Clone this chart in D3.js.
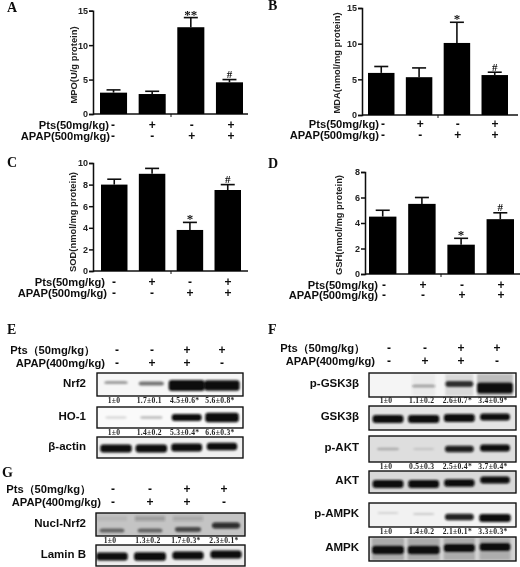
<!DOCTYPE html>
<html><head><meta charset="utf-8">
<script src="https://cdn.jsdelivr.net/npm/d3@7"></script>
<style>html,body{margin:0;padding:0;background:#fff}svg{display:block}</style>
</head><body><svg id="c" width="520" height="567"></svg>
<script>
// ---- bar chart values
const groups = ["g1","g2","g3","g4"];
const mpoValues = [3.1, 2.9, 12.6, 4.6];
const mpoTops   = [3.5, 3.3, 14.0, 5.0];
const mdaValues = [5.9, 5.3, 10.1, 5.6];
const mdaTops   = [6.8, 6.6, 13.0, 6.0];
const sodValues = [8.0, 9.0, 3.8, 7.5];
const sodTops   = [8.5, 9.5, 4.5, 8.0];
const gshValues = [4.5, 5.5, 2.3, 4.3];
const gshTops   = [5.0, 6.0, 2.8, 4.8];
const mpoSig = ["", "", "**", "#"];
const mdaSig = ["", "", "*", "#"];
const sodSig = ["", "", "*", "#"];
const gshSig = ["", "", "*", "#"];
const mpoTicks = [0, 5, 10, 15];
const mdaTicks = [0, 5, 10, 15];
const sodTicks = [0, 2, 4, 6, 8, 10];
const gshTicks = [0, 2, 4, 6, 8];
const ptsBars  = ["-", "+", "-", "+"];
const apapBars = ["-", "-", "+", "+"];
// ---- blot treatment rows
const ptsBlot  = ["-", "-", "+", "+"];
const apapBlot = ["-", "+", "+", "-"];
// ---- blot band strengths, 0..1
const nrf2Bands   = [0.22, 0.32, 1.0, 0.95];
const ho1Bands    = [0.1, 0.16, 0.62, 0.85];
const actinBands  = [0.72, 0.72, 0.68, 0.65];
const nuclBands   = [0.3, 0.3, 0.38, 0.5];
const nuclUpper   = [0.04, 0.14, 0.1, 0.0];
const laminBands  = [0.72, 0.75, 0.7, 0.7];
const pGskBands   = [0.0, 0.2, 0.5, 1.0];
const gskBands    = [0.68, 0.7, 0.68, 0.62];
const pAktBands   = [0.14, 0.08, 0.55, 0.62];
const aktBands    = [0.68, 0.68, 0.65, 0.6];
const pAmpkBands  = [0.08, 0.1, 0.55, 0.72];
const ampkBands   = [0.75, 0.75, 0.7, 0.68];
// ---- densitometry labels
const nrf2Quant = ["1±0", "1.7±0.1", "4.5±0.6*", "5.6±0.8*"];
const ho1Quant  = ["1±0", "1.4±0.2", "5.3±0.4*", "6.6±0.3*"];
const nuclQuant = ["1±0", "1.3±0.2", "1.7±0.3*", "2.3±0.1*"];
const pGskQuant = ["1±0", "1.1±0.2", "2.6±0.7*", "3.4±0.9*"];
const pAktQuant = ["1±0", "0.5±0.3", "2.5±0.4*", "3.7±0.4*"];
const pAmpkQuant= ["1±0", "1.4±0.2", "2.1±0.1*", "3.3±0.3*"];

// ---- layout
const SANS = "'Liberation Sans',Arial,sans-serif", SERIF = "'Liberation Serif',serif";
const svg = d3.select("#c");
const defs = svg.append("defs");
defs.append("filter").attr("id","soft").append("feGaussianBlur").attr("stdDeviation",0.4);
defs.append("filter").attr("id","bandBlur").attr("x","-30%").attr("y","-80%").attr("width","160%").attr("height","260%")
  .append("feGaussianBlur").attr("stdDeviation",1.1);
defs.append("clipPath").attr("id","none");
const root = svg.append("g").attr("filter","url(#soft)");

function letter(t,x,y){
  root.append("text").text(t).attr("x",x).attr("y",y).attr("font-family",SERIF)
    .attr("font-weight","bold").attr("font-size",14).attr("fill","#111");
}
function treat(label,x,y,marks,xs,size){
  root.append("text").text(label).attr("x",x).attr("y",y).attr("text-anchor","end")
    .attr("font-family",SANS).attr("font-weight","bold").attr("font-size",size).attr("dominant-baseline","middle").attr("fill","#111");
  root.append("g").selectAll("text").data(marks).join("text").text(d=>d)
    .attr("x",(d,i)=>xs(i)).attr("y",y).attr("text-anchor","middle").attr("dominant-baseline","middle")
    .attr("font-family",SANS).attr("font-weight","bold").attr("font-size",12).attr("fill","#111");
}

function barPanel(o){
  const y = d3.scaleLinear().domain([0,o.max]).range([o.y0,o.y1]);
  const x = d3.scaleBand().domain(groups).range(o.bars).paddingInner(0.3);
  const g = root.append("g");
  const ax = g.append("g").attr("transform",`translate(${o.axisX},0)`)
    .call(d3.axisLeft(y).tickValues(o.ticks).tickSize(4).tickPadding(1));
  ax.selectAll("path,line").attr("stroke","#111").attr("stroke-width",1.5);
  ax.selectAll("text").attr("font-family",SANS).attr("font-weight","bold").attr("font-size",9).attr("fill","#222");
  g.append("line").attr("x1",o.axisX).attr("x2",o.xEnd).attr("y1",o.y0).attr("y2",o.y0).attr("stroke","#111").attr("stroke-width",1.5);
  g.append("line").attr("x1",o.tickX).attr("x2",o.tickX).attr("y1",o.y0).attr("y2",o.y0+3).attr("stroke","#111");
  g.selectAll("line.stem").data(o.tops).join("line").attr("class","stem")
    .attr("x1",(d,i)=>x(groups[i])+x.bandwidth()/2).attr("x2",(d,i)=>x(groups[i])+x.bandwidth()/2)
    .attr("y1",(d,i)=>y(o.values[i])).attr("y2",d=>y(d)).attr("stroke","#111").attr("stroke-width",1.6);
  g.selectAll("line.cap").data(o.tops).join("line").attr("class","cap")
    .attr("x1",(d,i)=>x(groups[i])+x.bandwidth()/2-7).attr("x2",(d,i)=>x(groups[i])+x.bandwidth()/2+7)
    .attr("y1",d=>y(d)).attr("y2",d=>y(d)).attr("stroke","#111").attr("stroke-width",1.6);
  g.selectAll("rect").data(o.values).join("rect")
    .attr("x",(d,i)=>x(groups[i])).attr("width",x.bandwidth())
    .attr("y",d=>y(d)).attr("height",d=>o.y0-y(d)).attr("fill","#050505");
  g.selectAll("text.sig").data(o.sig).join("text").attr("class","sig").text(d=>d)
    .attr("x",(d,i)=>x(groups[i])+x.bandwidth()/2).attr("y",(d,i)=>y(o.tops[i])-(d==="#"?1.5:-1))
    .attr("text-anchor","middle").attr("font-family",SERIF).attr("font-weight","bold")
    .attr("font-size",d=>d==="#"?11:13).attr("fill","#111");
  g.append("text").text(o.title).attr("transform",`translate(${o.titleX},${o.titleY}) rotate(-90)`)
    .attr("text-anchor","middle").attr("font-family",SANS).attr("font-weight","bold").attr("font-size",9.4).attr("fill","#222");
  const mk = d3.scalePoint().domain(d3.range(4)).range(o.marks);
  treat("Pts(50mg/kg)",o.ptsEnd,o.rowY[0],ptsBars,mk,11.2);
  treat("APAP(500mg/kg)",o.apapEnd,o.rowY[1],apapBars,mk,11.2);
}
letter("A",7,12); letter("B",268,10); letter("C",7,167); letter("D",268,168);
barPanel({values:mpoValues,tops:mpoTops,sig:mpoSig,ticks:mpoTicks,max:15,title:"MPO(U/g protein)",axisX:93,y0:114,y1:10.7,xEnd:248,tickX:171,bars:[100,243],titleX:77,titleY:65,marks:[113,231],ptsEnd:109,apapEnd:110,rowY:[126,137]});
barPanel({values:mdaValues,tops:mdaTops,sig:mdaSig,ticks:mdaTicks,max:15,title:"MDA(nmol/mg protein)",axisX:362,y0:115,y1:8,xEnd:518,tickX:438,bars:[368,508],titleX:340,titleY:63,marks:[383,495],ptsEnd:379,apapEnd:379,rowY:[125,136]});
barPanel({values:sodValues,tops:sodTops,sig:sodSig,ticks:sodTicks,max:10,title:"SOD(nmol/mg protein)",axisX:93,y0:271,y1:163,xEnd:248,tickX:171,bars:[101,241],titleX:76,titleY:222,marks:[114,228],ptsEnd:105,apapEnd:107,rowY:[283,294]});
barPanel({values:gshValues,tops:gshTops,sig:gshSig,ticks:gshTicks,max:8,title:"GSH(nmol/mg protein)",axisX:365,y0:274,y1:172,xEnd:520,tickX:441,bars:[369,514],titleX:342,titleY:225,marks:[384,501],ptsEnd:378,apapEnd:378,rowY:[286,296]});

// ---- blots
const bandH = d3.scaleLinear().domain([0,1]).range([1,11]);
const bandW = d3.scaleLinear().domain([0,1]).range([20,36]);
const bandO = d3.scaleLinear().domain([0,0.6]).range([0,1]).clamp(true);

function blotRow(o){
  const lane = d3.scalePoint().domain(d3.range(4)).range(o.lanes);
  const id = "clip"+o.label.replace(/[^a-zA-Z0-9]/g,"")+o.top;
  defs.append("clipPath").attr("id",id).append("rect").attr("x",o.box[0]).attr("y",o.top).attr("width",o.box[1]-o.box[0]).attr("height",o.bottom-o.top);
  const g = root.append("g");
  g.append("rect").attr("x",o.box[0]).attr("y",o.top).attr("width",o.box[1]-o.box[0]).attr("height",o.bottom-o.top).attr("fill",o.bg||"#f4f4f4");
  const inner = g.append("g").attr("clip-path",`url(#${id})`).append("g").attr("filter","url(#bandBlur)");
  const mid = (o.top+o.bottom)/2 + (o.shift||0);
  if(o.upper) inner.selectAll("rect.u").data(o.upper).join("rect").attr("class","u")
    .attr("x",(d,i)=>lane(i)-15).attr("width",30).attr("y",o.top+3).attr("height",5)
    .attr("fill","#222").attr("opacity",d=>bandO(d));
  if(o.haze) inner.selectAll("rect.h").data(o.bands).join("rect").attr("class","h")
    .attr("x",(d,i)=>lane(i)-bandW(d)/2).attr("width",d=>bandW(d))
    .attr("y",o.top+1).attr("height",o.bottom-o.top-2).attr("fill","#555").attr("opacity",d=>d*o.haze);
  inner.selectAll("rect.b").data(o.bands).join("rect").attr("class","b")
    .attr("x",(d,i)=>lane(i)-bandW(d)/2).attr("width",d=>bandW(d))
    .attr("y",(d,i)=>mid-(o.lift?o.lift[i]:0)-bandH(d)/2).attr("height",d=>bandH(d))
    .attr("rx",3).attr("fill","#0a0a0a").attr("opacity",d=>bandO(d));
  g.append("rect").attr("x",o.box[0]).attr("y",o.top).attr("width",o.box[1]-o.box[0]).attr("height",o.bottom-o.top)
    .attr("fill","none").attr("stroke","#111").attr("stroke-width",1.4);
  g.append("text").text(o.label).attr("x",o.labelEnd).attr("y",(o.top+o.bottom)/2-1).attr("text-anchor","end")
    .attr("dominant-baseline","middle").attr("font-family",SANS).attr("font-weight","bold").attr("font-size",11.5).attr("fill","#111");
  if(o.quant) g.selectAll("text.q").data(o.quant).join("text").attr("class","q").text(d=>d)
    .attr("x",(d,i)=>lane(i)-2).attr("y",o.quantY).attr("text-anchor","middle").attr("dominant-baseline","middle")
    .attr("font-family",SERIF).attr("font-weight","bold").attr("font-size",7.6).attr("letter-spacing",0.3).attr("fill","#222");
}
function blotHead(rowEnd,rowY,marksRange){
  const mk = d3.scalePoint().domain(d3.range(4)).range(marksRange);
  treat("Pts（50mg/kg）",rowEnd,rowY[0],ptsBlot,mk,11.2);
  treat("APAP(400mg/kg)",rowEnd+10,rowY[1],apapBlot,mk,11.2);
}
letter("E",7,334); letter("F",268,334); letter("G",2,477);

// E
blotHead(95,[351,364],[117,222]);
const eBox=[97,243], eLanes=[116,222];
blotRow({label:"Nrf2",box:eBox,lanes:eLanes,top:373,bottom:396,labelEnd:86,bands:nrf2Bands,quant:nrf2Quant,quantY:401,lift:[2,1,-1,-1],bg:"#f6f6f6"});
blotRow({label:"HO-1",box:eBox,lanes:eLanes,top:407,bottom:428,labelEnd:86,bands:ho1Bands,quant:ho1Quant,quantY:433,lift:[0,0,0,0],bg:"#fafafa"});
blotRow({label:"β-actin",box:eBox,lanes:eLanes,top:437,bottom:458,labelEnd:86,bands:actinBands,lift:[-1,-1,0,1],bg:"#f0f0f0"});
// G
blotHead(91,[490,503],[113,224]);
const gBox=[96,245], gLanes=[112,226];
blotRow({label:"Nucl-Nrf2",box:gBox,lanes:gLanes,top:513,bottom:536,labelEnd:86,bands:nuclBands,upper:nuclUpper,quant:nuclQuant,quantY:541,lift:[-6,-6,-5,-1],bg:"#c4c4c4"});
blotRow({label:"Lamin B",box:gBox,lanes:gLanes,top:545,bottom:566,labelEnd:86,bands:laminBands,lift:[-1,-1,0,1],bg:"#ececec"});
// F
blotHead(365,[349,362],[389,497]);
const fBox=[369,516], fLanes=[388,495];
blotRow({label:"p-GSK3β",box:fBox,lanes:fLanes,top:373,bottom:397,labelEnd:359,bands:pGskBands,quant:pGskQuant,quantY:401,lift:[0,-1,1,-3],haze:0.35,bg:"#f5f5f5"});
blotRow({label:"GSK3β",box:fBox,lanes:fLanes,top:406,bottom:430,labelEnd:359,bands:gskBands,lift:[-1,-1,0,1],bg:"#e4e4e4"});
blotRow({label:"p-AKT",box:fBox,lanes:fLanes,top:436,bottom:462,labelEnd:359,bands:pAktBands,quant:pAktQuant,quantY:467,lift:[0,0,0,1],bg:"#dedede"});
blotRow({label:"AKT",box:fBox,lanes:fLanes,top:471,bottom:493,labelEnd:359,bands:aktBands,lift:[-2,-2,-1,2],bg:"#d8d8d8"});
blotRow({label:"p-AMPK",box:fBox,lanes:fLanes,top:503,bottom:527,labelEnd:359,bands:pAmpkBands,quant:pAmpkQuant,quantY:532,lift:[2,1,-2,-3],bg:"#f2f2f2"});
blotRow({label:"AMPK",box:fBox,lanes:fLanes,top:537,bottom:561,labelEnd:359,bands:ampkBands,lift:[-1,-1,1,2],haze:0.45,bg:"#d4d4d4"});
</script></body></html>
